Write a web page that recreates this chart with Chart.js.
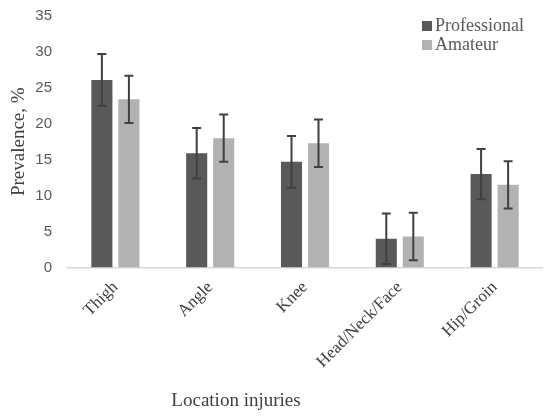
<!DOCTYPE html>
<html>
<head>
<meta charset="utf-8">
<script src="https://cdn.jsdelivr.net/npm/chart.js@4/dist/chart.umd.min.js"></script>
<style>
    html, body { margin: 0; padding: 0; background: #fff; }
    #wrap { width: 550px; height: 420px; }
</style>
</head>
<body>
<div id="wrap"><canvas id="chart"></canvas></div>
<script>
const categories = ['Thigh', 'Angle', 'Knee', 'Head/Neck/Face', 'Hip/Groin'];
const professional = [26.1, 15.9, 14.7, 4.0, 13.0];
const professionalErr = [3.6, 3.5, 3.6, 3.5, 3.5];
const amateur = [23.4, 18.0, 17.3, 4.3, 11.5];
const amateurErr = [3.3, 3.3, 3.3, 3.3, 3.3];
const yTicks = [0, 5, 10, 15, 20, 25, 30, 35];

const serif = '"Liberation Serif", "Times New Roman", serif';

// error bars with caps, drawn from the y scale
const errorBars = {
    id: 'errorBars',
    afterDatasetsDraw (chart) {
        const ctx = chart.ctx;
        const y = chart.scales.y;
        ctx.save();
        ctx.strokeStyle = '#404040';
        ctx.lineWidth = 2;
        chart.data.datasets.forEach((ds, i) => {
            const meta = chart.getDatasetMeta(i);
            meta.data.forEach((bar, j) => {
                const v = ds.data[j];
                const e = ds.errors[j];
                const top = y.getPixelForValue(v + e);
                const bottom = y.getPixelForValue(v - e);
                ctx.beginPath();
                ctx.moveTo(bar.x, top);
                ctx.lineTo(bar.x, bottom);
                ctx.moveTo(bar.x - 4.5, top);
                ctx.lineTo(bar.x + 4.5, top);
                ctx.moveTo(bar.x - 4.5, bottom);
                ctx.lineTo(bar.x + 4.5, bottom);
                ctx.stroke();
            });
        });
        ctx.restore();
    }
};

// legend in the top right of the plot, and the x axis title
const extras = {
    id: 'extras',
    afterDraw (chart) {
        const ctx = chart.ctx;
        const area = chart.chartArea;
        ctx.save();
        ctx.font = '18px ' + serif;
        ctx.textBaseline = 'middle';
        ctx.textAlign = 'left';
        chart.data.datasets.forEach((ds, i) => {
            const rowY = 26 + i * 19;
            ctx.fillStyle = ds.backgroundColor;
            ctx.fillRect(area.right - 120, rowY - 5, 10, 10);
            ctx.fillStyle = '#595959';
            ctx.fillText(ds.label, area.right - 107, rowY);
        });
        ctx.font = '19px ' + serif;
        ctx.textAlign = 'center';
        ctx.fillStyle = '#404040';
        ctx.fillText('Location injuries', 236, 401);
        ctx.restore();
    }
};

new Chart(document.getElementById('chart'), {
    type: 'bar',
    data: {
        labels: categories,
        datasets: [
            { label: 'Professional', data: professional, errors: professionalErr, backgroundColor: '#595959' },
            { label: 'Amateur', data: amateur, errors: amateurErr, backgroundColor: '#b2b2b2' }
        ]
    },
    options: {
        responsive: true,
        maintainAspectRatio: false,
        animation: false,
        layout: { padding: { left: 8, right: 8, top: 2, bottom: 46 } },
        plugins: {
            legend: { display: false },
            tooltip: { enabled: false }
        },
        datasets: {
            bar: { categoryPercentage: 0.57, barPercentage: 0.78 }
        },
        scales: {
            x: {
                grid: { display: false },
                border: { display: true, color: '#d9d9d9', width: 1.5 },
                ticks: {
                    color: '#404040',
                    font: { family: serif, size: 17 },
                    minRotation: 45,
                    maxRotation: 45,
                    padding: 2
                }
            },
            y: {
                min: 0,
                max: 35,
                grid: { display: false, drawTicks: false },
                border: { display: false },
                afterBuildTicks (axis) {
                    axis.ticks = yTicks.map((v) => ({ value: v }));
                },
                afterFit (axis) {
                    axis.width = 60;
                    axis.paddingTop = 16;
                },
                ticks: {
                    color: '#595959',
                    font: { family: '"Liberation Sans", Arial, sans-serif', size: 15 },
                    padding: 16
                },
                title: {
                    display: true,
                    text: 'Prevalence, %',
                    color: '#404040',
                    font: { family: serif, size: 19 },
                    padding: { top: 0, bottom: 4 }
                }
            }
        }
    },
    plugins: [errorBars, extras]
});
</script>
</body>
</html>
